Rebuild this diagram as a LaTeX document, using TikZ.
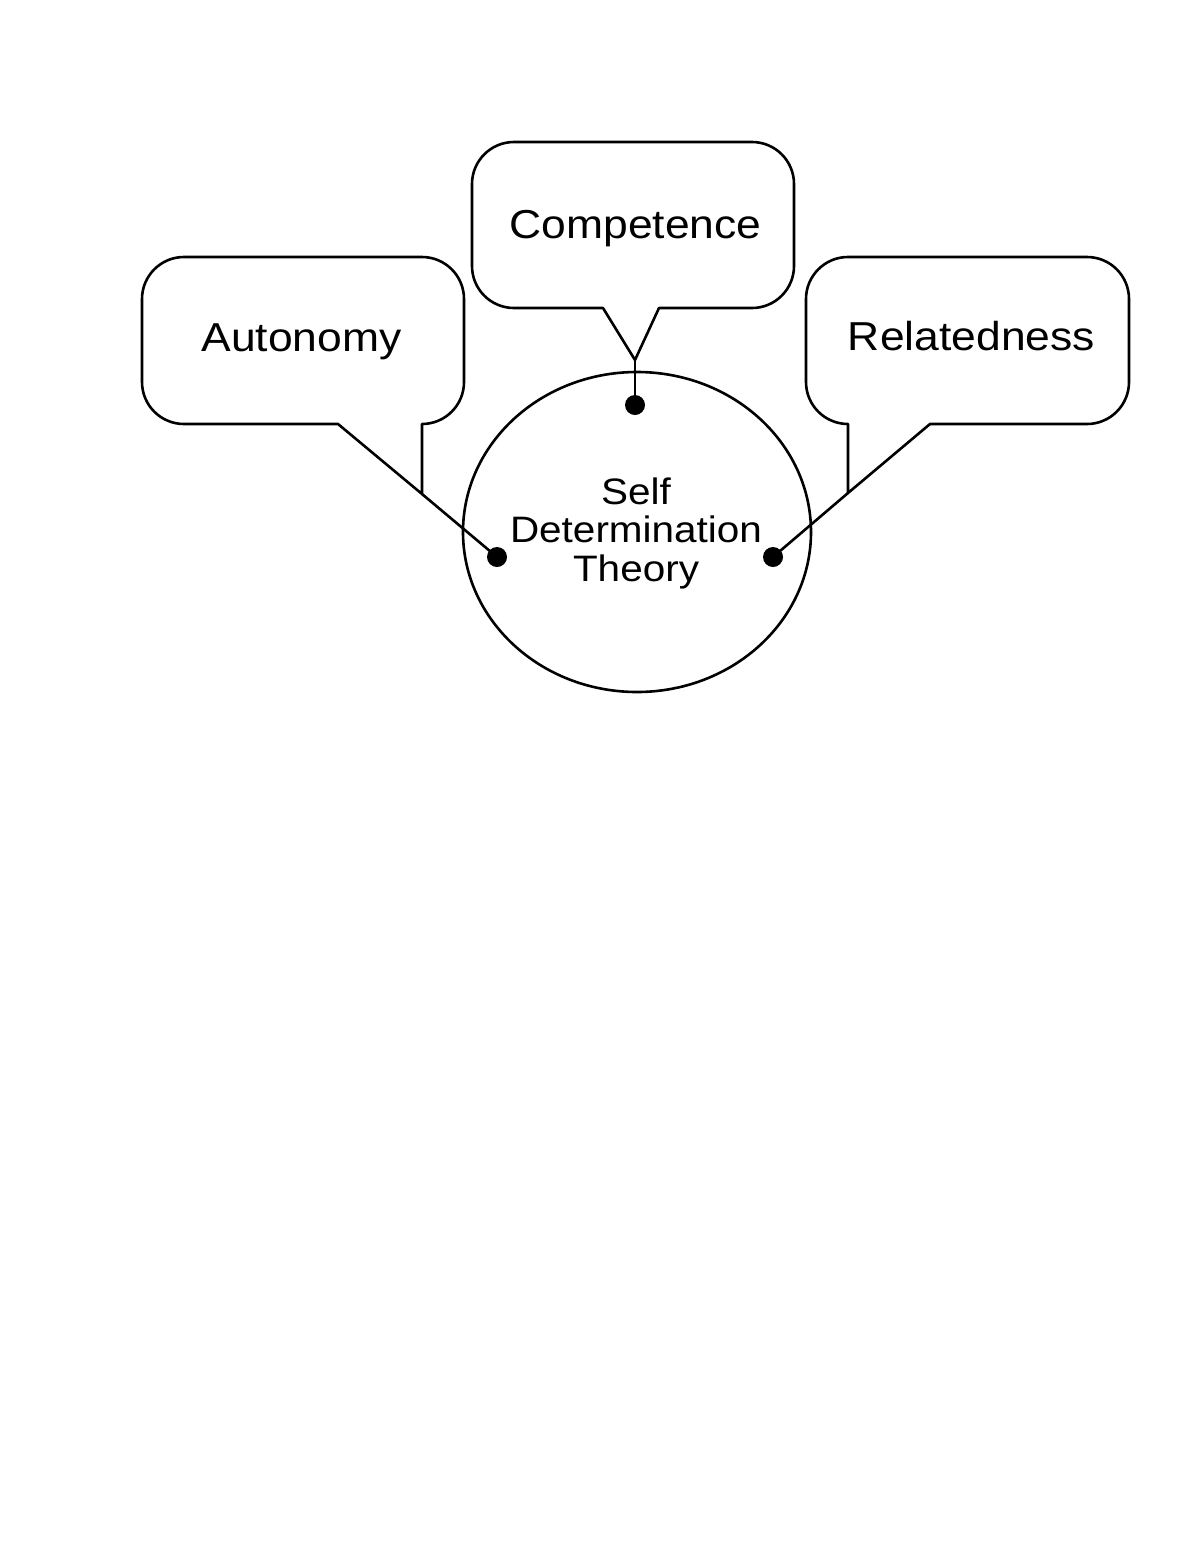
\documentclass[tikz,border=0pt]{standalone}
\usepackage{fontspec}
\setmainfont{Liberation Sans}[FakeStretch=1.1]
\usetikzlibrary{shapes.geometric}
\begin{document}
\begin{tikzpicture}[x=0.5pt,y=0.5pt,
  outline/.style={line width=1.3pt,line join=round},
  boxlabel/.style={anchor=base,inner sep=0pt,font=\fontsize{20.2}{24}\selectfont},
  dotnode/.style={circle,fill=black,inner sep=0pt,minimum size=10pt},
  link/.style={line width=1.3pt}]
\useasboundingbox (0,0) rectangle (1200,-1553);
% Autonomy callout
\draw[outline] (184,-257) -- (422,-257) arc[start angle=90,end angle=0,radius=42]
  -- (464,-382) arc[start angle=0,end angle=-90,radius=42]
  -- (422,-494) -- (338,-424) -- (184,-424) arc[start angle=-90,end angle=-180,radius=42]
  -- (142,-299) arc[start angle=180,end angle=90,radius=42] -- cycle;
\coordinate (atip) at (422,-494);
\node[boxlabel] (autonomy) at (301.5,-351) {Autonomy};
% Competence callout
\draw[outline] (514,-142) -- (752,-142) arc[start angle=90,end angle=0,radius=42]
  -- (794,-266) arc[start angle=0,end angle=-90,radius=42]
  -- (659,-308) -- (635,-360) -- (603,-308) -- (514,-308) arc[start angle=-90,end angle=-180,radius=42]
  -- (472,-184) arc[start angle=180,end angle=90,radius=42] -- cycle;
\coordinate (ctip) at (635,-360);
\node[boxlabel] (competence) at (635.5,-238) {Competence};
% Relatedness callout
\draw[outline] (848,-257) -- (1087,-257) arc[start angle=90,end angle=0,radius=42]
  -- (1129,-382) arc[start angle=0,end angle=-90,radius=42]
  -- (930,-424) -- (848,-493) -- (848,-424) arc[start angle=-90,end angle=-180,radius=42]
  -- (806,-299) arc[start angle=180,end angle=90,radius=42] -- cycle;
\coordinate (rtip) at (848,-493);
\node[boxlabel] (relatedness) at (971.5,-350) {Relatedness};
% Central ellipse
\node[draw,ellipse,line width=1.3pt,inner sep=0pt,minimum width=174pt,minimum height=160pt] (sdt) at (637,-532) {};
\node[align=center,inner sep=0pt,font=\fontsize{18.4}{19.25}\selectfont] (sdtlabel) at (636,-533) {Self\\Determination\\Theory};
% Dots
\node[dotnode] (adot) at (497,-557) {};
\node[dotnode] (cdot) at (635,-405) {};
\node[dotnode] (rdot) at (773,-557) {};
% Connectors
\draw[link] (atip) -- (adot.center);
\draw[link] (ctip) -- (cdot.center);
\draw[link] (rtip) -- (rdot.center);
\end{tikzpicture}
\end{document}
